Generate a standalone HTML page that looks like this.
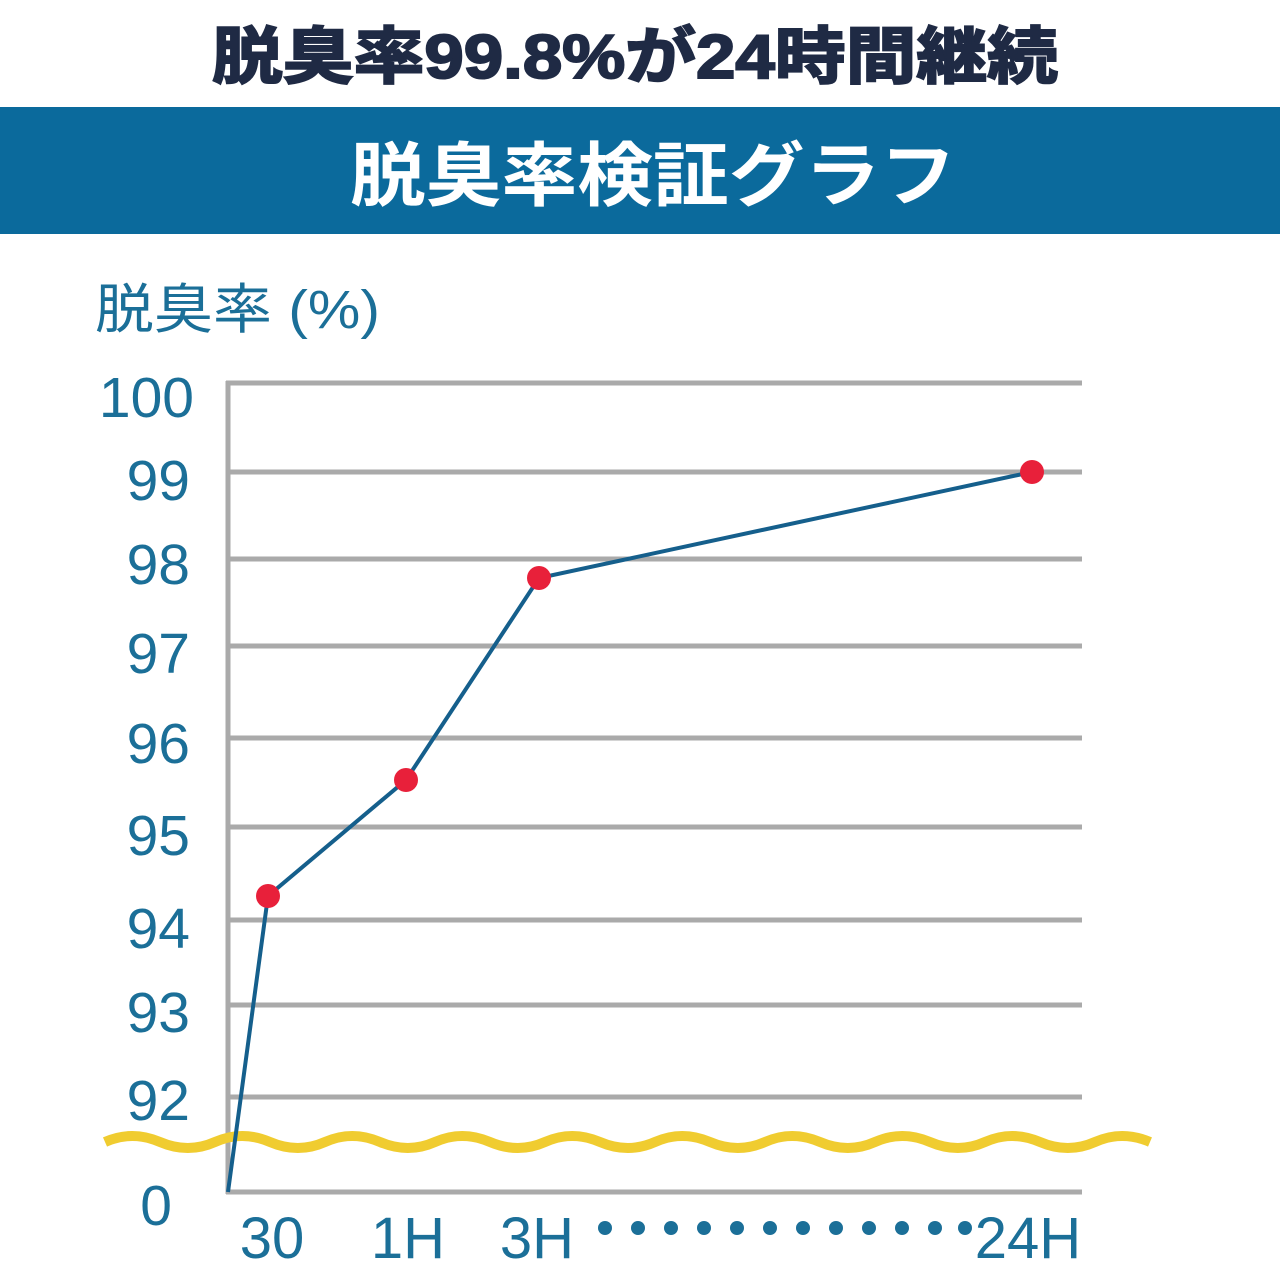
<!DOCTYPE html>
<html><head><meta charset="utf-8"><style>
html,body{margin:0;padding:0;background:#fff;}
svg{display:block}
</style></head><body>
<svg width="1280" height="1280" viewBox="0 0 1280 1280" xmlns="http://www.w3.org/2000/svg">
<text x="212" y="78" textLength="846" lengthAdjust="spacingAndGlyphs" font-family="'Liberation Sans','Noto Sans CJK JP',sans-serif" font-weight="bold" font-size="62" fill="#1f2a44" stroke="#1f2a44" stroke-width="2">脱臭率99.8%が24時間継続</text>
<rect x="0" y="107" width="1280" height="127" fill="#0b6a9c"/>
<text x="350" y="200" textLength="606" lengthAdjust="spacingAndGlyphs" font-family="'Liberation Sans','Noto Sans CJK JP',sans-serif" font-weight="bold" font-size="70" fill="#fff">脱臭率検証グラフ</text>
<text x="95" y="328" textLength="285" lengthAdjust="spacingAndGlyphs" font-family="'Liberation Sans','Noto Sans CJK JP',sans-serif" font-size="54" fill="#1b6f98">脱臭率 (%)</text>
<g stroke="#aaaaaa" stroke-width="5">
<line x1="226" y1="383" x2="1082" y2="383"/>
<line x1="226" y1="472" x2="1082" y2="472"/>
<line x1="226" y1="559" x2="1082" y2="559"/>
<line x1="226" y1="646" x2="1082" y2="646"/>
<line x1="226" y1="738" x2="1082" y2="738"/>
<line x1="226" y1="827" x2="1082" y2="827"/>
<line x1="226" y1="920" x2="1082" y2="920"/>
<line x1="226" y1="1005" x2="1082" y2="1005"/>
<line x1="226" y1="1097" x2="1082" y2="1097"/>
<line x1="226" y1="1192" x2="1082" y2="1192"/>
<line x1="228" y1="381" x2="228" y2="1194"/>
</g>
<g font-family="'Liberation Sans',sans-serif" font-size="57" fill="#1b6f98" text-anchor="end">
<text x="194" y="417">100</text>
<text x="190" y="500">99</text>
<text x="190" y="584">98</text>
<text x="190" y="673">97</text>
<text x="190" y="763">96</text>
<text x="190" y="855">95</text>
<text x="190" y="948">94</text>
<text x="190" y="1032">93</text>
<text x="190" y="1120">92</text>
<text x="172" y="1225">0</text>
</g>
<path d="M105,1142 q27,-12 55,0 t55,0 t55,0 t55,0 t55,0 t55,0 t55,0 t55,0 t55,0 t55,0 t55,0 t55,0 t55,0 t55,0 t55,0 t55,0 t55,0 t55,0 t55,0" fill="none" stroke="#f0cc30" stroke-width="10"/>
<polyline points="228,1192 268,896 406,780 539,578 1032,472" fill="none" stroke="#155f8c" stroke-width="4"/>
<g fill="#e8203a">
<circle cx="268" cy="896" r="12"/><circle cx="406" cy="780" r="12"/><circle cx="539" cy="578" r="12"/><circle cx="1032" cy="472" r="12"/>
</g>
<g font-family="'Liberation Sans',sans-serif" font-size="58" fill="#1b6f98" text-anchor="middle">
<text x="272" y="1258">30</text>
<text x="408" y="1258">1H</text>
<text x="537" y="1258">3H</text>
<text x="1028" y="1258">24H</text>
</g>
<g fill="#1b6f98">
<circle cx="605" cy="1228" r="7"/><circle cx="638" cy="1228" r="7"/><circle cx="671" cy="1228" r="7"/><circle cx="704" cy="1228" r="7"/><circle cx="737" cy="1228" r="7"/><circle cx="770" cy="1228" r="7"/><circle cx="803" cy="1228" r="7"/><circle cx="836" cy="1228" r="7"/><circle cx="869" cy="1228" r="7"/><circle cx="902" cy="1228" r="7"/><circle cx="935" cy="1228" r="7"/><circle cx="965" cy="1228" r="7"/>
</g>
</svg>
</body></html>
